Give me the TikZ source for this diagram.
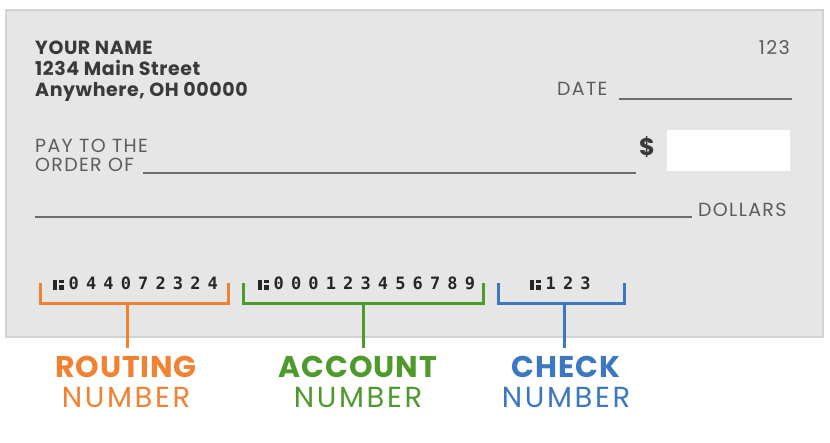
\documentclass[tikz,border=0pt]{standalone}
\usepackage{fontspec}
\setmainfont{Poppins}
\newfontfamily\micrfont[LetterSpace=42]{DejaVu Sans Mono}
\usetikzlibrary{positioning}
\definecolor{checkgray}{HTML}{E6E6E6}
\definecolor{checkedge}{HTML}{D2D2D2}
\definecolor{checkink}{HTML}{5C5C5C}
\definecolor{checkdark}{HTML}{3A3A3A}
\definecolor{routeorange}{HTML}{F08232}
\definecolor{acctgreen}{HTML}{4E9A2C}
\definecolor{checkblue}{HTML}{3C78C2}

% transit symbol of the MICR line
\newcommand{\transit}{\rule[0pt]{3.5pt}{10pt}\hspace{2pt}\rlap{\rule{5pt}{5pt}}\raisebox{7pt}{\rule{5pt}{3pt}}\hspace{5pt}}

\begin{document}
\begin{tikzpicture}[x=1pt,y=-1pt,
  owner/.style={anchor=base west, inner sep=0pt, text=checkdark, font=\fontsize{19}{19}\selectfont\bfseries\addfontfeatures{LetterSpace=3}},
  formtext/.style={inner sep=0pt, text=checkink, font=\fontsize{19}{19}\selectfont\addfontfeatures{LetterSpace=7}},
  blank/.style={checkink!90, line width=1.8pt},
  micr/.style={anchor=base west, inner sep=0pt, text=black!85, font=\fontsize{17}{17}\micrfont\bfseries},
  bracket/.style={line width=3pt},
  bigword/.style={anchor=base, inner sep=0pt, font=\fontsize{30}{30}\selectfont\bfseries\addfontfeatures{LetterSpace=3}},
  smallword/.style={anchor=base, inner sep=0pt, font=\fontsize{29}{29}\selectfont\addfontfeatures{LetterSpace=9}}]
\useasboundingbox (0,0) rectangle (830,443);
\fill[white] (0,0) rectangle (830,443);

% the check itself
\draw[checkedge, fill=checkgray, line width=1.5pt] (6,10) rectangle (823,337);

% owner block
\node[owner] (name) at (35,55) {YOUR NAME};
\node[owner] (street) at (35,76) {1234 Main Street};
\node[owner] (town) at (35,97) {Anywhere, OH 00000};
\node[formtext, anchor=base east] (number) at (790,55) {123};

% date
\node[formtext, anchor=base west] (date) at (557,96) {DATE};
\coordinate (datestart) at (619,99);
\coordinate (dateend) at (792,99);
\draw[blank] (datestart) -- (dateend);

% payee and amount
\node[formtext, anchor=base west] (payto) at (35,153) {PAY TO THE};
\node[formtext, anchor=base west] (orderof) at (35,172) {ORDER OF};
\coordinate (paystart) at (143,173);
\coordinate (payend) at (636,173);
\draw[blank] (paystart) -- (payend);
\node[anchor=base west, inner sep=0pt, text=checkdark, font=\fontsize{24}{24}\selectfont\bfseries] (dollar) at (639,156) {\$};
\node[fill=white, minimum width=123pt, minimum height=41pt, inner sep=0pt, anchor=north west] (amount) at (667,130) {};

% written amount
\coordinate (wordstart) at (35,217);
\coordinate (wordend) at (692,217);
\node[formtext, anchor=base west] (dollars) at (698,217) {DOLLARS};
\draw[blank] (wordstart) -- (wordend);

% MICR line
\node[micr] (routing) at (53,290) {\transit 044072324};
\node[micr] (account) at (258,290) {\transit 000123456789};
\node[micr] (checkno) at (530,290) {\transit 123};

% brackets
\draw[bracket, routeorange] (40,283) -- (40,304) -- (228,304) -- (228,283);
\draw[bracket, acctgreen] (243,283) -- (243,304) -- (483,304) -- (483,283);
\draw[bracket, checkblue] (498,283) -- (498,304) -- (624,304) -- (624,283);
\coordinate (routestem) at (127,304);
\coordinate (acctstem) at (363,304);
\coordinate (checkstem) at (564,304);

% labels
\node[bigword, text=routeorange] (routelabel) at (126,378) {ROUTING};
\node[smallword, text=routeorange] (routenum) at (126,408) {NUMBER};
\node[bigword, text=acctgreen] (acctlabel) at (358,378) {ACCOUNT};
\node[smallword, text=acctgreen] (acctnum) at (358,408) {NUMBER};
\node[bigword, text=checkblue] (checklabel) at (566,378) {CHECK};
\node[smallword, text=checkblue] (checknum) at (566,408) {NUMBER};

\draw[bracket, routeorange, shorten >=8pt] (routestem) -- (routestem |- routelabel.north);
\draw[bracket, acctgreen, shorten >=8pt] (acctstem) -- (acctstem |- acctlabel.north);
\draw[bracket, checkblue, shorten >=8pt] (checkstem) -- (checkstem |- checklabel.north);
\end{tikzpicture}
\end{document}
